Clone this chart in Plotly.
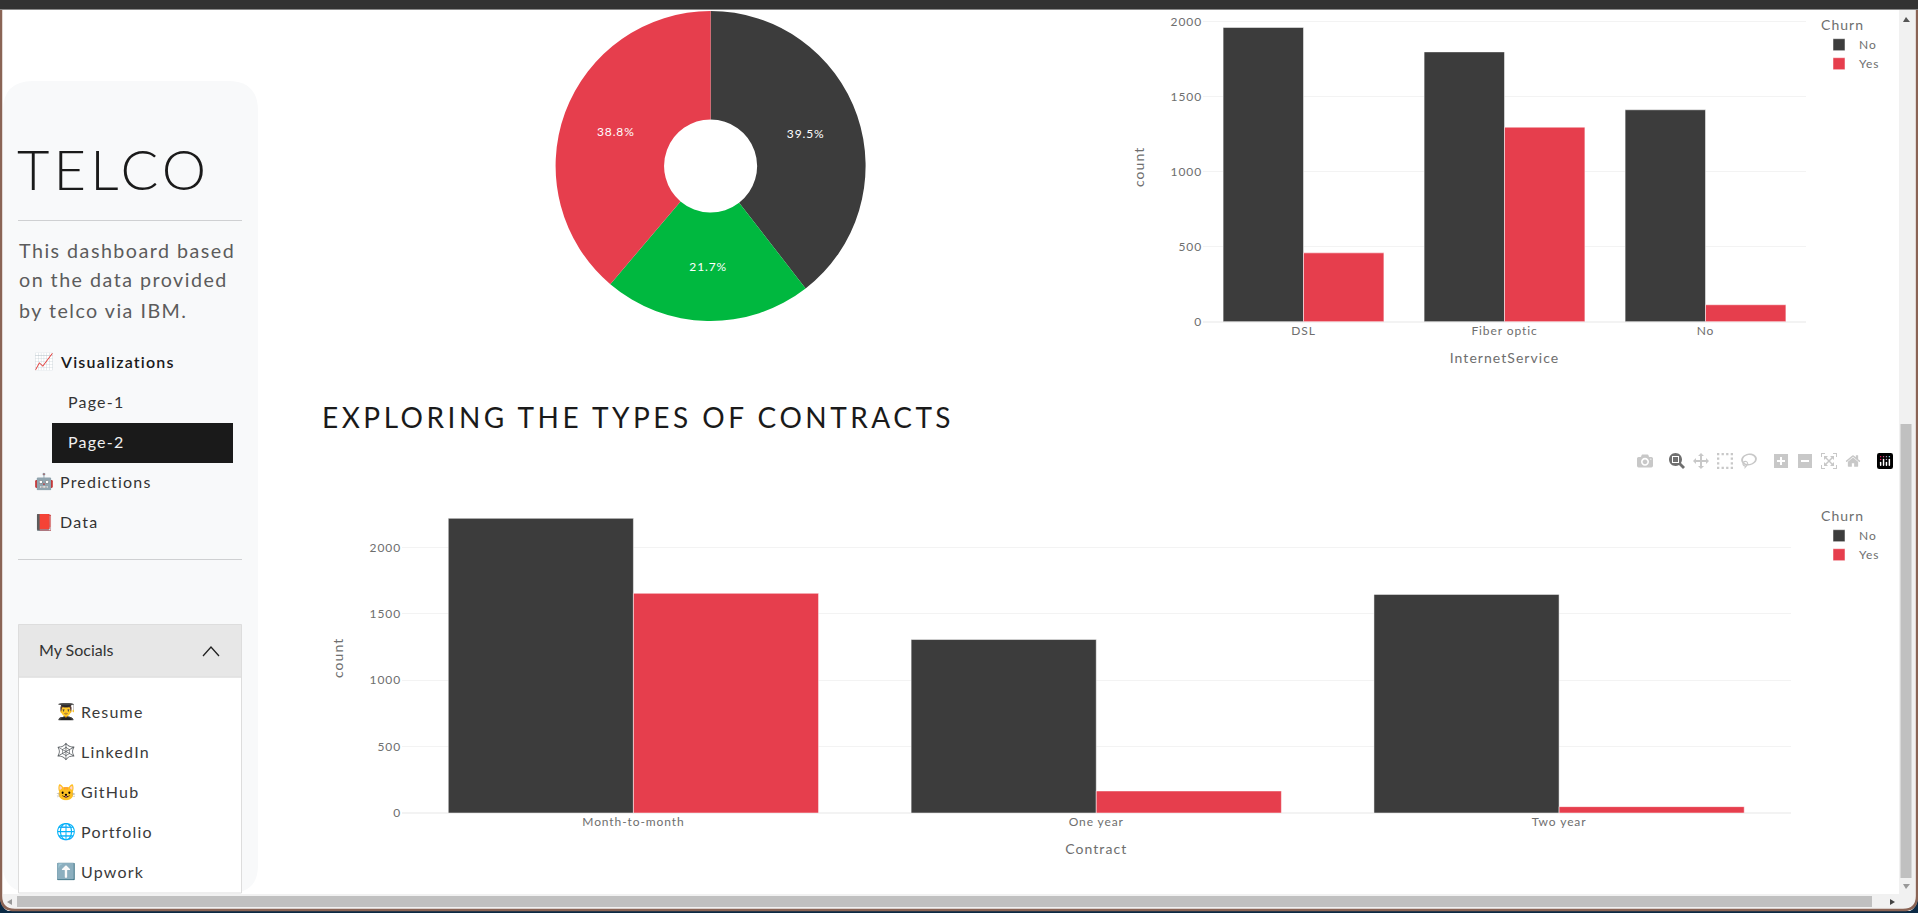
import plotly.graph_objects as go

W, H = 1918, 913

# data
pie_labels = ['A', 'B', 'C']
pie_shares = [39.5, 21.7, 38.8]
pie_colors = ['#3c3c3c', '#00b83f', '#e63e4d']

internet_types = ['DSL', 'Fiber optic', 'No']
internet_no = [1962, 1799, 1413]
internet_yes = [459, 1297, 113]

contract_types = ['Month-to-month', 'One year', 'Two year']
contract_no = [2220, 1307, 1647]
contract_yes = [1655, 166, 48]

nav_items = ['📈', '🤖', '📕']
social_icons = ['👨‍🎓', '🕸️', '😺', '🌐', '⬆️']
social_names = ['Resume', 'LinkedIn', 'GitHub', 'Portfolio', 'Upwork']

DARK = '#3c3c3c'
RED = '#e63e4d'
FONT = 'Lato, Open Sans, sans-serif'
GRID = '#f3f3f3'
TICK = '#6e6e6e'


def xp(x):
    return x / W


def yp(y):
    return 1 - y / H


shapes = []
notes = []


def rect(x0, y0, x1, y1, fill, line=None, layer='below'):
    shapes.append(dict(type='rect', xref='paper', yref='paper', x0=xp(x0), x1=xp(x1), y0=yp(y0), y1=yp(y1),
                       fillcolor=fill, line=dict(color=line or fill, width=1 if line else 0), layer=layer))


def path(d, fill=None, line=None, width=1, layer='above'):
    # d is a list of (command, x, y) in page pixels
    s = ''
    for c, *pts in d:
        s += c
        for i in range(0, len(pts), 2):
            s += f' {xp(pts[i]):.5f},{yp(pts[i + 1]):.5f} '
    shapes.append(dict(type='path', xref='paper', yref='paper', path=s + ('Z' if fill else ''),
                       fillcolor=fill or 'rgba(0,0,0,0)', line=dict(color=line or 'rgba(0,0,0,0)', width=width), layer=layer))


def text(x, y, s, size, color, weight=400, anchor='left'):
    notes.append(dict(xref='paper', yref='paper', x=xp(x), y=yp(y), text=s, showarrow=False, xanchor=anchor,
                      yanchor='middle', align=anchor, borderpad=0,
                      font=dict(family=FONT, size=size, color=color, weight=weight)))
    return len(notes) - 1


# browser window
rect(0, 0, W, 9, '#333333', layer='above')
rect(0, 9, W, 10, '#8a8a8a', layer='above')

# sidebar
path([('M', 3, 111), ('Q', 3, 81, 33, 81), ('L', 228, 81), ('Q', 258, 81, 258, 111), ('L', 258, 865),
      ('Q', 258, 893, 230, 893), ('L', 33, 893), ('Q', 3, 893, 3, 865)], fill='#f8f9fa', layer='below')
text(16, 169, 'TELCO', 56, '#1a1a1a', 300)
rect(18, 220, 242, 221, '#cfd0d2')
for y, line in zip([250, 280, 310], ['This dashboard based', 'on the data provided', 'by telco via IBM.']):
    text(17.5, y, line, 19.7, '#5c5c5c', 400)
text(32.5, 361, nav_items[0], 16, '#333333')
text(58.5, 361, 'Visualizations', 16, '#1a1a1a', 600)
text(66.5, 401, 'Page-1', 16, '#333333')
rect(52, 423, 233, 463, '#1a1a1a')
text(66.5, 441, 'Page-2', 16, '#f0f0f0')
text(32.5, 481, nav_items[1], 16, '#333333')
text(58.5, 481, 'Predictions', 16, '#333333')
text(32.5, 521, nav_items[2], 16, '#333333')
text(58.5, 521, 'Data', 16, '#333333')
rect(18, 559, 242, 560, '#cfd0d2')

# socials accordion
rect(18.5, 677, 241.5, 893, '#ffffff', '#dddddd')
rect(18.5, 624.5, 241.5, 677, '#e7e7e7', '#dddddd')
socials_head = text(38, 649, 'My Socials', 16, '#333333')
path([('M', 203, 656), ('L', 211, 647), ('L', 219, 656)], line='#222222', width=1.3)
for y, icon, name in zip([711, 751, 791, 831, 871], social_icons, social_names):
    text(54.5, y, icon, 16, '#333333')
    text(79.5, y, name, 16, '#3a3a3a')

# section title
section_title = text(321, 417, 'EXPLORING THE TYPES OF CONTRACTS', 28, '#1a1a1a')

# scrollbars
rect(1899, 10, 1915, 894, '#f1f1f1', layer='above')
rect(1900.5, 424, 1911.5, 878, '#c0c0c0', layer='above')
path([('M', 1903, 22), ('L', 1906, 17), ('L', 1910, 22)], fill='#555555')
path([('M', 1903, 884), ('L', 1906, 889), ('L', 1910, 884)], fill='#999999')
rect(3, 894, 1915, 909, '#f1f1f1', layer='above')
rect(17, 896, 1872, 907, '#c0c0c0', layer='above')
path([('M', 12, 899), ('L', 7, 902), ('L', 12, 905)], fill='#999999')
path([('M', 1890, 899), ('L', 1895, 902), ('L', 1890, 905)], fill='#444444')

# window edge
path([('M', 0, 895), ('Q', 0, 913, 18, 913), ('L', 0, 913)], fill='#0b2a45')
path([('M', W, 895), ('Q', W, 913, W - 18, 913), ('L', W, 913)], fill='#0b2a45')
rect(0, 911, W, 913, '#0b2a45', layer='above')
path([('M', 1, 10), ('L', 1, 896), ('Q', 1, 910, 15, 910), ('L', W - 15, 910), ('Q', W - 1, 910, W - 1, 896),
      ('L', W - 1, 10)], line='#8a6455', width=2.5)

fig = go.Figure()

fig.add_trace(go.Pie(labels=pie_labels, values=pie_shares, sort=False, direction='clockwise', hole=0.3,
                     marker=dict(colors=pie_colors), textinfo='percent', textposition='inside',
                     insidetextorientation='horizontal', textfont=dict(color='white', size=12, family=FONT),
                     showlegend=False, domain=dict(x=[xp(710.6 - 155), xp(710.6 + 155)], y=[yp(166 + 155), yp(166 - 155)])))

bar_line = dict(color='white', width=0.5)
fig.add_trace(go.Bar(x=internet_types, y=internet_no, name='No', marker=dict(color=DARK, line=bar_line),
                     xaxis='x', yaxis='y', legend='legend'))
fig.add_trace(go.Bar(x=internet_types, y=internet_yes, name='Yes', marker=dict(color=RED, line=bar_line),
                     xaxis='x', yaxis='y', legend='legend'))
fig.add_trace(go.Bar(x=contract_types, y=contract_no, name='No', marker=dict(color=DARK, line=bar_line),
                     xaxis='x2', yaxis='y2', legend='legend2'))
fig.add_trace(go.Bar(x=contract_types, y=contract_yes, name='Yes', marker=dict(color=RED, line=bar_line),
                     xaxis='x2', yaxis='y2', legend='legend2'))


def x_axis(title, x0, x1, anchor):
    return dict(domain=[xp(x0), xp(x1)], anchor=anchor, title=dict(text=title, font=dict(size=14, color=TICK), standoff=16),
                tickfont=dict(size=12, color=TICK), showgrid=False, showline=False, ticks='', automargin=False)


def y_axis(top, y0, y1, anchor):
    return dict(domain=[yp(y0), yp(y1)], anchor=anchor, range=[0, top],
                title=dict(text='count', font=dict(size=14, color=TICK), standoff=26),
                tickfont=dict(size=12, color=TICK), gridcolor=GRID, zerolinecolor=GRID, zerolinewidth=2, ticks='', automargin=False)


def legend_at(top):
    return dict(x=xp(1819), xanchor='left', y=yp(top), yanchor='top', title=dict(text='Churn', font=dict(size=14, color=TICK)),
                font=dict(size=12, color=TICK), bgcolor='rgba(0,0,0,0)', tracegroupgap=0)


fig.update_layout(
    width=W, height=H, autosize=False,
    margin=dict(l=0, r=0, t=0, b=0),
    paper_bgcolor='white', plot_bgcolor='white',
    font=dict(family=FONT, color=TICK),
    barmode='group', bargap=0.2, bargroupgap=0,
    xaxis=x_axis('InternetService', 1203, 1806, 'y'),
    yaxis=y_axis(2065, 321.7, 12, 'x'),
    xaxis2=x_axis('Contract', 402, 1790.5, 'y2'),
    yaxis2=y_axis(2337, 813, 502.8, 'x2'),
    legend=legend_at(12),
    legend2=legend_at(503),
    modebar=dict(bgcolor='rgba(0,0,0,0)', color='#c8c8c8', activecolor='#6f6f6f'),
    shapes=shapes,
    annotations=notes,
)

page_css = """
var s = document.createElement('style');
s.textContent = 'html,body{margin:0;padding:0;overflow:hidden;background:#fff}'
  + 'svg text{letter-spacing:.075em}'
  + '.annotation[data-index="%d"] text{letter-spacing:0}'
  + '.annotation[data-index="%d"] text{letter-spacing:.125em}'
  + '.js-plotly-plot .plotly .modebar{top:450px!important;right:21px!important}';
document.head.appendChild(s);
""" % (socials_head, section_title)

fig.write_html(
    'out.html',
    post_script=page_css,
    config=dict(displayModeBar=True, displaylogo=True, modeBarButtons=[
        ['toImage'], ['zoom2d', 'pan2d', 'select2d', 'lasso2d'],
        ['zoomIn2d', 'zoomOut2d', 'autoScale2d', 'resetScale2d']]),
)
